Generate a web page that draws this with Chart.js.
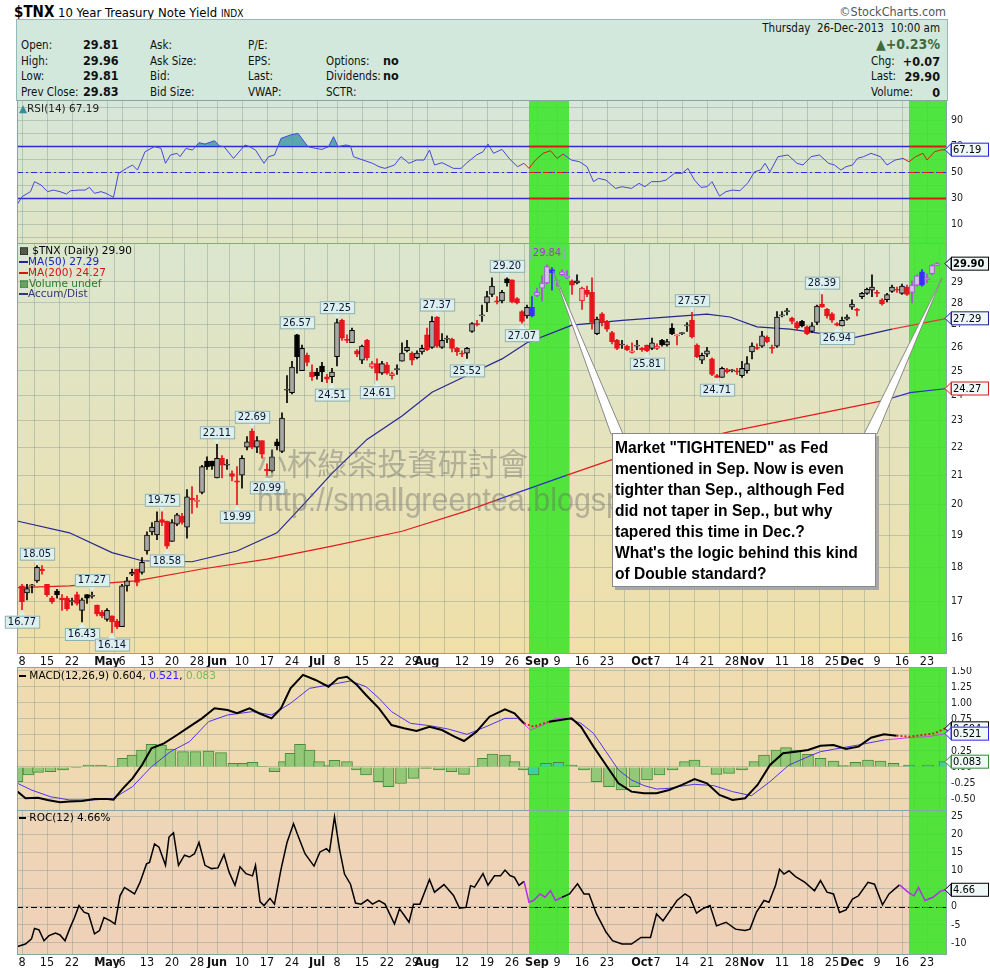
<!DOCTYPE html>
<html><head><meta charset="utf-8">
<script src="https://cdn.jsdelivr.net/npm/chart.js@4.4.1/dist/chart.umd.min.js"></script>
<style>
body{margin:0;background:#fff;width:990px;height:970px;position:relative;overflow:hidden;font-family:'Liberation Sans Narrow','DejaVu Sans Condensed',sans-serif}
canvas{position:absolute;left:0}
.t{position:absolute;white-space:nowrap}
.lg{position:absolute;left:19px;font:10.5px 'DejaVu Sans',sans-serif;line-height:11px;z-index:6;white-space:nowrap}
.hd{position:absolute;font-size:11.5px;color:#111;white-space:nowrap;font-family:'DejaVu Sans Condensed',sans-serif}
.b{font-weight:bold;font-size:12.5px}
</style></head><body>
<div class="t" style="left:14px;top:3px;font-size:13px;color:#000"><b style="font-size:15px">$TNX</b> 10 Year Treasury Note Yield <span style="font-size:10px">INDX</span></div>
<div class="t" style="right:44px;top:4px;font-size:12.5px;color:#555">©StockCharts.com</div>
<div style="position:absolute;left:16px;top:19px;width:930px;height:80px;background:#d3e8dc;border:1px solid #95b8b8"></div>
<div id="hdr"></div>
<canvas id="rsi" width="990" height="143" style="top:100px"></canvas>
<canvas id="price" width="990" height="424" style="top:243px"></canvas>
<canvas id="macd" width="990" height="143" style="top:667px"></canvas>
<canvas id="roc" width="990" height="158" style="top:810px"></canvas>

<div class="lg" style="top:103px;color:#222"><span style="color:#3a8a9a">&#9650;</span>RSI(14) 67.19</div>
<div class="lg" style="top:245px;color:#000">&#9641; $TNX (Daily) 29.90</div>
<div class="lg" style="top:256px;color:#2222bb"><span style="display:inline-block;width:9px;height:2px;background:#22229a;vertical-align:middle"></span>MA(50) 27.29</div>
<div class="lg" style="top:267px;color:#dd1111"><span style="display:inline-block;width:9px;height:2px;background:#dd1111;vertical-align:middle"></span>MA(200) 24.27</div>
<div class="lg" style="top:278px;color:#2a7a2a"><span style="color:#2a7a2a">&#9641;</span>Volume undef</div>
<div class="lg" style="top:288px;color:#33337a"><span style="display:inline-block;width:9px;height:2px;background:#33337a;vertical-align:middle"></span>Accum/Dist</div>
<div class="lg" style="top:670px;color:#000"><span style="display:inline-block;width:7px;height:2px;background:#000;vertical-align:middle"></span> MACD(12,26,9) 0.604, <span style="color:#3322ee">0.521</span>, <span style="color:#77bb55">0.083</span></div>
<div class="lg" style="top:812px;color:#000"><span style="display:inline-block;width:7px;height:2px;background:#000;vertical-align:middle"></span> ROC(12) 4.66%</div>

<svg width="990" height="970" style="position:absolute;left:0;top:0;z-index:5;pointer-events:none">
<text x="257" y="475" font-size="31" textLength="271" lengthAdjust="spacingAndGlyphs" font-family="Noto Sans CJK TC" fill="rgba(105,105,105,0.42)">小杯綠茶投資研討會</text>
<text x="257" y="511" font-size="33" textLength="466" lengthAdjust="spacingAndGlyphs" font-family="Liberation Sans" fill="rgba(105,105,105,0.42)">http://smallgreentea.blogspot.com/</text>
<polygon points="611,434 553,271 623,434" fill="#fff" stroke="#888" stroke-width="1"/>
<polygon points="864,434 942,278 877,434" fill="#fff" stroke="#888" stroke-width="1"/>
</svg>
<div style="position:absolute;left:612px;top:433px;width:264px;height:154px;background:#fff;border:1px solid #888;box-shadow:3px 3px 0 #a8a8a8;z-index:7;font:bold 15.6px 'Liberation Sans',Arial,sans-serif;line-height:21px;padding:3px 0 0 2px;box-sizing:border-box;color:#000;white-space:nowrap">Market "TIGHTENED" as Fed<br>mentioned in Sep. Now is even<br>tighter than Sep., although Fed<br>did not taper in Sep., but why<br>tapered this time in Dec.?<br>What's the logic behind this kind<br>of Double standard?</div>

<script>
// ---------- DATA ----------
const tickDays = [0,5,10,17,20,25,30,35,39,44,49,54,59,63,68,73,78,81,88,93,98,103,107,112,117,124,127,132,137,142,146,152,157,162,166,171,176,181];
const tickText = ['8','15','22','May','6','13','20','28','Jun','10','17','24','Jul','8','15','22','29','Aug','12','19','26','Sep','9','16','23','Oct','7','14','21','28','Nov','11','18','25','Dec','9','16','23'];
const rsiTicks = [0,10,20,30,40,50,60,70,80,90,100];
const priceTicks = [16,17,18,19,20,21,22,23,24,25,26,27,28,29];
const macdTicks = [-0.5,-0.25,0,0.25,0.5,0.75,1,1.25,1.5];
const rocTicks = [-10,-5,0,5,10,15,20,25];

const openP = [17.45,17.25,17.45,17.6,17.95,17.5,17.1,17.3,17.1,17.1,17.0,17.2,16.75,17.2,17.15,16.9,16.7,16.5,16.6,16.45,
16.3,17.45,17.8,17.95,17.85,18.5,19.1,19.0,19.5,19.45,18.8,19.35,19.6,19.25,20.2,20.1,20.4,21.5,21.5,20.9,
21.6,21.35,21.05,20.8,21.0,22.0,22.6,22.0,22.25,21.2,21.15,22.2,21.85,24.2,24.1,26.55,25.0,25.65,24.95,24.95,
25.2,24.75,24.75,25.6,27.2,26.35,26.2,25.85,25.45,26.3,25.15,25.3,24.9,25.25,24.8,25.05,25.4,25.85,25.75,25.55,
25.8,26.55,26.0,27.35,26.0,26.35,26.35,25.95,25.75,25.75,26.7,27.05,27.4,28.0,28.4,28.1,28.1,29.15,29.1,28.2,
27.6,27.4,27.8,28.35,28.7,28.95,29.6,29.0,29.35,29.2,29.05,28.95,28.1,28.6,28.5,26.6,27.5,27.15,26.65,26.3,
26.1,26.05,25.78,26.05,25.95,26.1,25.95,25.95,26.3,26.1,26.85,26.5,26.6,26.95,27.2,26.1,25.45,25.7,25.5,24.8,
24.72,25.05,25.0,24.98,24.8,25.0,25.8,26.0,26.05,26.45,26.0,26.05,27.4,27.6,27.3,27.1,27.15,26.9,26.7,27.1,
27.95,27.7,27.5,27.05,26.95,27.25,27.8,27.7,28.3,28.45,28.6,28.5,28.15,28.15,28.55,28.65,28.45,28.75,28.5,28.85,
29.5,29.1,29.4,29.81];
const highP = [17.5,17.5,17.5,18.05,18.05,17.5,17.15,17.35,17.2,17.15,17.1,17.27,17.1,17.2,17.27,16.9,16.75,16.8,16.6,16.5,
17.5,17.7,17.95,17.95,18.3,19.1,19.4,19.75,19.75,19.45,19.5,19.7,19.7,20.5,20.6,20.3,21.35,21.65,21.5,22.11,
21.7,21.55,21.15,21.3,21.7,22.4,22.69,22.4,22.25,21.4,21.9,22.3,23.3,24.8,25.4,26.57,26.1,25.75,25.25,25.1,
25.35,24.85,25.1,27.25,27.25,26.55,26.85,25.9,26.1,26.35,25.4,25.5,25.4,25.35,24.95,25.25,26.2,26.3,25.8,25.85,
26.1,26.85,27.37,27.37,26.6,26.5,26.4,26.0,25.85,26.0,27.1,27.2,27.9,28.55,29.2,28.3,28.6,29.2,29.1,28.25,
27.65,27.9,28.3,28.7,29.3,29.84,29.7,29.1,29.6,29.55,29.1,29.35,28.75,28.8,29.2,27.35,27.55,27.2,26.7,26.35,
26.3,26.1,26.2,26.3,26.0,26.1,26.4,26.15,26.35,26.35,27.05,26.55,26.65,27.1,27.57,26.15,25.75,26.0,25.55,24.85,
25.15,25.1,25.05,25.1,25.4,25.6,26.2,26.15,26.7,26.5,26.1,27.6,27.6,27.75,27.35,27.15,27.2,26.95,27.1,27.9,
28.39,27.75,27.55,27.1,27.35,27.45,28.15,27.75,28.5,28.7,29.35,28.6,28.2,28.45,28.85,28.75,28.9,28.85,29.05,29.35,
29.6,29.4,29.85,29.96];
const lowP = [16.77,17.05,17.25,17.55,17.8,17.15,16.95,17.1,16.75,16.75,16.9,16.9,16.43,16.95,17.1,16.6,16.55,16.45,16.14,16.25,
16.3,17.3,17.75,17.45,17.8,18.4,19.0,18.85,19.3,18.58,18.8,19.3,19.35,18.9,19.7,19.9,20.35,21.2,21.2,20.9,
20.9,21.2,20.8,19.99,20.55,21.9,21.95,21.8,21.6,20.99,21.1,21.9,21.8,23.7,24.05,24.9,25.0,25.2,24.6,24.65,
24.55,24.51,24.51,25.2,26.3,26.2,26.2,25.6,25.3,25.45,25.1,24.61,24.85,24.85,24.65,24.85,25.4,25.8,25.25,25.5,
25.7,25.85,25.95,26.0,25.95,26.2,25.8,25.65,25.6,25.52,26.65,26.95,27.15,27.6,28.3,27.95,28.0,28.8,28.0,27.95,
27.07,27.3,27.35,28.3,28.1,28.9,28.6,28.8,29.3,29.15,28.4,28.9,27.7,28.3,26.8,26.55,26.95,26.7,26.15,25.9,
25.95,25.85,25.75,25.9,25.82,25.81,25.9,25.9,26.05,26.05,26.55,26.1,26.55,26.7,26.4,25.55,25.3,25.6,24.8,24.71,
24.72,24.9,24.95,24.85,24.72,24.9,25.5,25.9,26.0,26.2,25.75,26.0,27.35,27.45,27.05,26.75,26.9,26.55,26.65,27.0,
27.8,27.3,27.1,26.94,26.94,27.2,27.7,27.4,28.2,28.4,28.3,28.3,27.9,28.05,28.5,28.5,28.4,28.35,28.0,28.8,
28.8,28.95,29.35,29.81];
const closeP = [17.0,17.37,17.48,18.0,17.9,17.2,17.0,17.2,17.05,16.8,17.0,16.95,17.05,17.1,17.15,16.65,16.6,16.75,16.43,16.3,
17.45,17.6,17.85,17.55,18.15,19.0,19.25,19.45,19.4,18.65,19.4,19.65,19.4,20.25,20.15,20.1,21.3,21.3,21.32,21.6,
21.35,21.36,20.95,20.75,21.6,22.2,22.0,22.25,21.75,21.15,21.65,22.05,23.1,24.2,25.15,25.6,25.95,25.35,24.75,24.8,
24.95,24.65,24.95,27.1,26.4,26.3,26.75,25.7,26.05,25.55,25.3,24.9,25.3,24.9,24.88,25.05,25.75,26.0,25.45,25.75,
25.95,25.9,27.15,26.05,26.3,26.35,25.95,25.8,25.7,25.95,27.05,27.0,27.4,28.3,28.8,28.05,28.5,28.95,28.05,28.0,
27.15,27.8,27.4,28.5,28.95,29.75,29.45,29.0,29.5,29.3,28.85,29.05,28.7,28.4,27.1,27.25,27.1,26.8,26.25,25.95,
26.1,25.9,25.85,26.05,25.9,25.85,26.2,26.05,26.1,26.25,26.6,26.5,26.6,26.95,26.45,25.6,25.65,25.85,24.85,24.72,
25.1,24.95,25.0,24.95,25.1,25.3,26.05,25.95,26.5,26.25,25.95,27.35,27.4,27.6,27.15,26.85,26.95,26.6,26.95,27.85,
27.8,27.4,27.2,26.98,27.2,27.35,27.95,27.65,28.45,28.65,28.75,28.45,27.95,28.4,28.75,28.6,28.8,28.4,28.85,29.3,
28.85,29.2,29.8,29.90];

const ma50Days = [-1,9.5,18,24,34,43,51,56,62,69,76,82,89,96,101,110,120,137,141.6,147,153.6,160,166,174,185];
const ma50Vals = [19.45,19.07,18.45,18.2,18.17,18.5,19.07,19.94,21.06,22.29,23.18,24.12,24.8,25.5,26.2,26.98,27.2,27.48,27.35,26.9,26.8,26.6,26.4,26.8,27.29];
const ma200Days = [-1,9.5,22.8,36,49,62,76,89,95,109,118,142,172,177.6,185];
const ma200Vals = [17.4,17.45,17.6,17.95,18.25,18.65,19.12,19.78,20.15,21.0,21.55,22.6,23.77,24.1,24.27];

const rsiDays = [-0.9,0,1.7,2.5,3.8,5.1,6.3,7.6,8.9,9.7,11.4,12.6,13.5,14.5,15.8,16.8,18.3,19.3,20.9,22.1,23.1,24.6,26.5,27.8,28.7,29.7,31,31.6,32.8,34.1,35.4,36.6,38.5,39.5,40.4,42.3,44.6,45.5,46.7,48.4,49.3,50.5,51.8,53.7,55.2,57.2,58.7,60,61.3,62.3,63.2,64.8,65.7,66.3,68.2,70.1,71.4,72.6,74.5,75.8,77.4,78.9,80.4,81.5,82.5,84,86.3,87.8,89,90.9,92.2,93.2,94.3,96,97.6,99.1,100.4,101.4,102.7,104.2,105.7,107,108.2,109.9,111.5,113,114.3,115.3,116.8,118.7,120,121.9,123.4,124.6,125.9,127.5,128.8,130.5,132,133.2,134.5,135.8,137,138,139.5,140.8,142.1,143.6,145.2,146.5,147.7,148.6,149.6,151.2,153.2,155,156.2,157.8,159.5,161.3,162.5,163.8,164.8,166.1,167.1,168.3,169.8,171.7,173,174.6,176.2,177.4,178.7,180.2,181,182.5,183.7,184.7];
const rsiVals = [25.4,31,34.9,42.6,40,34.9,36.1,34.9,33.1,35.6,36.1,36.1,38.2,33.6,34.9,33.6,30.5,49,52.8,55.4,51.5,65.6,69.5,68.2,56.7,63.1,64.4,61.8,68.2,66.9,72.6,71.5,74.1,70,69.5,60.5,70.8,69.5,66.9,56.7,61.8,63.1,75.9,78.5,79.7,69.5,68.2,67.4,69.5,77.2,69.5,70.8,70,61.8,59.2,56.7,54.1,52.8,55.4,61.8,56.7,59.2,59.2,66.9,55.4,57.2,52.8,52.8,57.2,63.1,65.6,71.5,64.4,67.4,59.7,54.1,56.7,52.8,59.2,64.4,66.4,60.5,63.8,59.2,57.9,54.1,42.6,45.1,43.8,37.4,38.7,37.4,41.3,38.7,42.6,42.6,43.8,49,49,52.8,43.8,38.2,38.7,42.6,31.5,34.9,36.1,35.6,41.8,50.2,51.5,56.7,50.2,61.8,63.1,56.7,55.4,61.8,63.1,56.7,55.4,51.5,54.1,55.4,60.5,61.8,64.4,61.8,55.4,59.2,60.5,57.9,61.8,64.4,59.2,65.6,66.9,67.19];

const macdDays = [-0.9,0.7,3.2,5.1,7.6,9.5,12,14.5,17.1,18.3,20.2,22.1,24,25.9,28.4,31,33.5,36,38.5,41.1,43,45.5,47.4,49.9,51.8,53.7,56.2,58.7,61.3,63.2,65,67,68.8,71.4,73.9,76.4,78.9,81.5,84,86.5,88.4,90.9,93.5,96.6,98.5,100.4,102.3,105.4,109.9,111.8,114.3,116.8,119.3,121.9,124.4,126.9,129.4,132,134.5,137,139.5,142.1,144.6,147.1,149.6,152.2,154.7,157.2,159.7,162.3,164.8,167.3,169.8,172.4,174.9,177.4,180,182.5,184.7];
const macdVals = [-0.385,-0.49,-0.48,-0.515,-0.552,-0.54,-0.53,-0.5,-0.5,-0.51,-0.333,-0.177,0.031,0.292,0.37,0.5,0.63,0.76,0.917,0.89,0.84,0.917,0.84,0.76,0.917,1.229,1.44,1.36,1.255,1.385,1.41,1.281,1.125,0.917,0.656,0.604,0.5625,0.63,0.578,0.474,0.406,0.552,0.786,0.901,0.84,0.682,0.63,0.708,0.76,0.63,0.318,0.031,-0.255,-0.385,-0.41,-0.41,-0.36,-0.28,-0.1875,-0.255,-0.4375,-0.515,-0.49,-0.28,0.031,0.214,0.24,0.266,0.333,0.344,0.281,0.318,0.458,0.51,0.49,0.474,0.5,0.526,0.604];
const sigDays = [-0.9,1.9,5.7,9.5,14.5,18.3,22.1,25.9,29.7,33.5,37.3,41.1,46.1,49.9,53.7,57.5,61.3,65.7,68.8,71.4,73.9,77.7,81.5,85.2,89,92.8,96.6,99.1,101.7,104.2,106.7,109.2,111.8,114.3,116.8,119.3,121.9,124.4,126.9,129.4,132,134.5,138.3,142.1,145.9,149.6,153.4,157.2,159.7,162.3,167.3,172.4,177.4,181.2,184.7];
const sigVals = [-0.255,-0.36,-0.464,-0.515,-0.515,-0.49,-0.307,0.005,0.24,0.396,0.708,0.8125,0.865,0.8125,0.995,1.229,1.281,1.344,1.255,1.073,0.865,0.682,0.646,0.594,0.51,0.63,0.76,0.76,0.578,0.656,0.76,0.76,0.682,0.526,0.24,-0.047,-0.203,-0.29,-0.344,-0.333,-0.297,-0.271,-0.29,-0.385,-0.448,-0.229,0.031,0.161,0.24,0.276,0.344,0.422,0.458,0.474,0.521];
const histDays = [-0.9,1.3,3.2,5.7,8.2,10.8,13.3,15.8,18.3,20.2,22.1,24,25.9,27.8,29.7,32.2,34.7,37.3,39.8,42.3,44.2,46.1,48,50.5,52.4,53.7,55.6,57.5,59.4,61.3,62.5,65,67,68.8,71.4,73.3,75.8,78.3,80.8,83.4,85.9,88.4,90.3,92.2,94.1,96.6,98.5,100.4,102.3,104.8,107.3,109.9,112.4,114.9,117.4,119.9,122.5,125,127.5,130.1,132.6,134.5,136.4,138.9,141.4,144,146.5,148.4,150.9,152.8,154.7,157.2,159.7,162.3,164.2,166.7,169.2,171.7,174.3,177.4,181.2,184.5];
const histVals = [-0.229,-0.125,-0.083,-0.073,-0.047,-0.01,0.031,0.031,0.005,0.135,0.188,0.266,0.354,0.344,0.281,0.24,0.24,0.25,0.224,0.057,0.057,0.073,0.005,-0.073,0.083,0.214,0.354,0.266,0.083,0.021,0.104,0.083,-0.047,-0.125,-0.229,-0.307,-0.255,-0.177,-0.021,-0.047,-0.073,-0.115,0.005,0.135,0.203,0.188,0.083,-0.047,-0.125,0.057,0.073,0.031,-0.047,-0.229,-0.307,-0.359,-0.307,-0.203,-0.125,-0.047,0.083,0.109,0.005,-0.115,-0.099,-0.047,0.083,0.188,0.266,0.302,0.266,0.198,0.135,0.094,0.021,0.073,0.109,0.094,0.057,0.031,0.031,0.083];

const rocDays = [-0.9,0.7,1.9,2.5,3.4,4.4,5.4,6.7,7.6,8.6,9.5,10.5,11.4,12.4,13.3,14.5,15.5,16.4,17.7,18.6,19.6,20.5,21.5,22.5,23.6,24.9,25.5,26.5,27.4,28.7,29.4,30.3,31.3,32.5,33.5,34.5,35.4,36.6,37.9,39.2,40.4,41.4,42.6,43.6,44.8,46.1,46.7,47.6,48.4,49.6,50.5,51.8,53,54.3,55.3,56.6,58.4,59.6,60.9,61.5,62.5,63.5,64.5,65.7,66.7,67.8,69.1,70.1,71.4,72.6,74.5,75.5,76.4,77.4,78.3,79.6,81.5,82.5,84.4,86.3,87.5,88.8,89.7,90.5,92.2,93.2,94.5,95.7,96.6,97.6,98.5,99.4,100.4,101.4,102.3,103.6,104.6,105.7,106.7,108,109.5,111.1,112.4,113.4,114.9,116.8,118.1,120,121.9,123.8,125.7,126.9,128.2,129.4,131,132.6,133.6,134.9,136.1,137.6,138.9,140.8,142.7,144.6,145.6,146.9,148.4,149.4,150.7,151.5,152.4,153.4,154.7,156.6,158.5,159.7,161,162.3,163.5,164.8,166.1,167.3,169.2,170.5,172.1,173.4,175.5,177.4,178.4,179.3,180.6,182.2,183.7,184.7];
const rocVals = [-11,-10.3,-8.9,-6,-6.4,-9.4,-8,-7.3,-7.8,-9.4,-6.2,-3,0.3,-1.5,-2,-7.5,-6.6,-3,-3.9,-4.8,3,5.3,4.4,3.5,6.7,11.8,12.2,17.3,16.4,11.4,19.2,20.4,11.4,14.2,13.7,14.6,17.7,11.4,10.5,10.7,14.4,9.6,5.9,11,9.1,8.5,11.4,1.4,0.3,2.3,0.7,10.3,17.7,22.9,19.2,14.6,11.2,15.1,16,15.1,24.8,15.9,9,6.2,1,0.7,1.9,0.7,1.7,0.7,-4.8,-0.6,-2.3,-4.3,0.7,0.7,7.5,4,6.1,3.1,-0.4,-0.2,5.8,5.4,9.1,5.9,8.5,8.5,10.1,8.6,8.1,5.9,7,1.2,1.7,3.5,2.6,4.4,1.7,2.6,3.5,6.3,3.5,3.5,-2,-7,-9.4,-10.3,-10.3,-8.5,-8.5,-2,-3.9,-1.5,1.7,3.5,2.6,-1.8,-0.6,0.3,-5.3,-4.3,-6.2,-6.6,-6.2,-1.5,1.7,1.2,5.8,10.3,9,9.9,8.3,6.7,4.4,7.2,4,3.5,-1.6,-0.9,2.1,3,6.7,6.2,0.5,3.5,6,3.8,3,5.3,1.7,2.6,4.3,4.66];

const labelDays = [0,3,12,14,18,28,29,39,43,46,49,55,62,63,71,83,89,97,100,105,125,134,139,160,163];
const labelSide = ['l','h','l','h','l','h','l','h','l','h','l','h','l','h','l','h','l','h','l','h','l','h','l','h','l'];

// ---------- HELPERS ----------
const BANDS = [[101.4,109.4],[177.4,185]];
const inBand = x => BANDS.some(b => x >= b[0] && x <= b[1]);
const pts = (d, v) => d.map((x, i) => ({x, y: v[i]}));
const NARROW = "'Liberation Sans Narrow','DejaVu Sans Condensed',sans-serif";
const GRID = 'rgba(120,145,140,0.38)';
const TICKFONT = {family: "'DejaVu Sans Condensed','DejaVu Sans',sans-serif", size: 10.5};

function xScale(show) {
  return {
    type: 'linear', min: -1, max: 185, offset: false,
    afterBuildTicks: a => { a.ticks = tickDays.map(v => ({value: v})); },
    grid: {color: GRID, drawTicks: false},
    border: {display: false},
    ticks: {
      display: show, autoSkip: false, maxRotation: 0, padding: 1, color: '#111',
      callback: v => tickText[tickDays.indexOf(v)],
      font: c => ({family: NARROW, size: 12.5, weight: /[A-Za-z]/.test(tickText[tickDays.indexOf(c.tick && c.tick.value)] || '') ? 'bold' : 'normal'})
    },
    afterFit: s => { s.height = show ? 14 : 0; s.paddingLeft = 0; s.paddingRight = 0; s.paddingTop = 0; s.paddingBottom = 0; }
  };
}
function yScale(tickVals, extra, labelFn) {
  return Object.assign({
    position: 'right',
    grid: {color: GRID, drawTicks: false},
    border: {display: false},
    afterBuildTicks: a => { a.ticks = tickVals.map(v => ({value: v})); },
    ticks: {color: '#222', padding: 4, font: TICKFONT, autoSkip: false, callback: labelFn || (v => String(v))},
    afterFit: s => { s.width = 43; s.paddingTop = 0; s.paddingBottom = 0; s.paddingLeft = 0; s.paddingRight = 0; }
  }, extra);
}

const panelPlugin = {
  id: 'panel',
  beforeDraw(chart, args, o) {
    const a = chart.chartArea, ctx = chart.ctx;
    const g = ctx.createLinearGradient(0, a.top, 0, a.bottom);
    g.addColorStop(0, o.top); g.addColorStop(1, o.bottom);
    ctx.save(); ctx.fillStyle = g; ctx.fillRect(a.left, a.top, a.right - a.left, a.bottom - a.top); ctx.restore();
  },
  beforeDatasetsDraw(chart, args, o) {
    const a = chart.chartArea, ctx = chart.ctx, xs = chart.scales.x, ys = chart.scales.y;
    ctx.save();
    ctx.fillStyle = 'rgba(55,228,38,0.85)';
    BANDS.forEach(b => {
      const x0 = xs.getPixelForValue(b[0]), x1 = Math.min(a.right, xs.getPixelForValue(b[1]));
      ctx.fillRect(x0, a.top, x1 - x0, a.bottom - a.top);
    });
    (o.lines || []).forEach(l => {
      const y = Math.round(ys.getPixelForValue(l.v)) + 0.5;
      ctx.lineWidth = l.w || 1; ctx.setLineDash(l.dash || []);
      ctx.strokeStyle = l.c; ctx.beginPath(); ctx.moveTo(a.left, y); ctx.lineTo(a.right, y); ctx.stroke();
      if (l.bandC) {
        ctx.strokeStyle = l.bandC;
        BANDS.forEach(b => { ctx.beginPath(); ctx.moveTo(xs.getPixelForValue(b[0]), y); ctx.lineTo(Math.min(a.right, xs.getPixelForValue(b[1])), y); ctx.stroke(); });
      }
    });
    ctx.restore();
  },
  afterDraw(chart, args, o) {
    const a = chart.chartArea, ctx = chart.ctx, ys = chart.scales.y, xs = chart.scales.x;
    ctx.save();
    ctx.strokeStyle = '#86a6a6'; ctx.lineWidth = 1; ctx.setLineDash([]);
    ctx.strokeRect(a.left + 0.5, a.top + 0.5, a.right - a.left - 1, a.bottom - a.top);
    if (o.callouts) {
      ctx.font = "11px 'DejaVu Sans Condensed','DejaVu Sans',sans-serif";
      ctx.textAlign = 'center'; ctx.textBaseline = 'middle';
      labelDays.forEach((d, k) => {
        const side = labelSide[k];
        const val = side === 'h' ? highP[d] : lowP[d];
        const txt = val.toFixed(2);
        const x = xs.getPixelForValue(d), yv = ys.getPixelForValue(val);
        const w = ctx.measureText(txt).width + 6, h = 12;
        const by = side === 'h' ? yv - 6 - h : yv + 6;
        const band = inBand(d);
        ctx.fillStyle = band ? '#55e040' : '#dcf0ee'; ctx.strokeStyle = '#8fb0b0';
        ctx.beginPath();
        if (side === 'h') { ctx.moveTo(x - 4, by + h); ctx.lineTo(x, yv - 1); ctx.lineTo(x + 4, by + h); }
        else { ctx.moveTo(x - 4, by); ctx.lineTo(x, yv + 1); ctx.lineTo(x + 4, by); }
        ctx.fill();
        ctx.fillRect(x - w / 2, by, w, h); ctx.strokeRect(x - w / 2 + 0.5, by + 0.5, w, h);
        ctx.fillStyle = band ? '#b030e0' : '#113';
        ctx.fillText(txt, x, by + h / 2 + 0.5);
      });
    }
    (o.tags || []).forEach(t => {
      const y = ys.getPixelForValue(t.v), x = a.right + 2;
      ctx.fillStyle = t.bg || '#eef8f6'; ctx.strokeStyle = t.c; ctx.lineWidth = 1;
      ctx.beginPath(); ctx.moveTo(x - 4, y); ctx.lineTo(x + 2, y - 6); ctx.lineTo(x + 2, y + 6); ctx.closePath(); ctx.fill(); ctx.stroke();
      ctx.fillRect(x + 2, y - 7, 37, 14); ctx.strokeRect(x + 2.5, y - 6.5, 37, 13);
      ctx.fillStyle = '#000'; ctx.textAlign = 'left'; ctx.textBaseline = 'middle';
      ctx.font = (t.b ? 'bold ' : '') + "11px 'DejaVu Sans Condensed','DejaVu Sans',sans-serif";
      ctx.fillText(t.t, x + 4, y + 0.5);
    });
    ctx.restore();
  }
};
Chart.register(panelPlugin);

const base = (scales, plug) => ({
  responsive: false, animation: false,
  layout: {autoPadding: false, padding: {left: 17, right: 0, top: 0, bottom: 0}},
  scales,
  plugins: Object.assign({legend: {display: false}, tooltip: {enabled: false}}, plug)
});

// ---------- RSI ----------
new Chart(document.getElementById('rsi'), {
  type: 'line',
  data: {datasets: [{
    data: pts(rsiDays, rsiVals), borderColor: '#4646dc', borderWidth: 1, pointRadius: 0, tension: 0,
    fill: {target: {value: 70}, above: 'rgba(60,150,165,0.8)', below: 'rgba(0,0,0,0)'},
    segment: {borderColor: c => inBand(c.p1.parsed.x) ? '#e01818' : '#4646dc'}
  }]},
  options: base({
    x: xScale(false),
    y: yScale(rsiTicks, {min: -4.6, max: 105.4}, v => [10,30,50,70,90].includes(v) ? String(v) : '')
  }, {panel: {top: '#d6e6d8', bottom: '#dfe4c4', lines: [
    {v: 70, c: '#2b2bd8', w: 1.3, bandC: '#e01818'},
    {v: 30, c: '#2b2bd8', w: 1.3, bandC: '#e01818'},
    {v: 50, c: '#2b2bd8', w: 1.2, dash: [6, 3, 2, 3], bandC: '#e01818'}],
    tags: [{v: 67.19, t: '67.19', c: '#2222dd'}]}})
});

// ---------- PRICE ----------
const days = closeP.map((_, i) => i);
const colorOf = i => {
  const prev = i > 0 ? closeP[i - 1] : openP[i];
  const filled = closeP[i] < openP[i];
  if (inBand(i)) return filled ? '#3a2cff' : '#b448f4';
  return (closeP[i] < prev || i === 0) ? '#e8141c' : '#000000';
};
const cols = days.map(colorOf);
const fills = days.map(i => closeP[i] < openP[i] ? cols[i] : 'rgba(255,255,255,0.6)');

new Chart(document.getElementById('price'), {
  type: 'bar',
  data: {datasets: [
    {type: 'line', data: pts(ma50Days, ma50Vals), borderColor: '#262690', borderWidth: 1.2, pointRadius: 0, order: 4,
      segment: {borderColor: c => inBand(c.p1.parsed.x) ? '#e23a3a' : '#262690'}},
    {type: 'line', data: pts(ma200Days, ma200Vals), borderColor: '#e01c1c', borderWidth: 1.2, pointRadius: 0, order: 4,
      segment: {borderColor: c => inBand(c.p1.parsed.x) ? '#3030c0' : '#e01c1c'}},
    {data: days.map(i => ({x: i, y: [lowP[i], highP[i]]})), backgroundColor: cols, barThickness: 1, grouped: false, order: 3, minBarLength: 1},
    {data: days.map(i => ({x: i, y: [Math.min(openP[i], closeP[i]), Math.max(openP[i], closeP[i])]})),
      backgroundColor: fills, borderColor: cols, borderWidth: 1, borderSkipped: false, barThickness: 5, grouped: false, order: 2, minBarLength: 1}
  ]},
  options: base({
    x: xScale(true),
    y: yScale(priceTicks, {type: 'logarithmic', min: 15.6, max: 30.95})
  }, {panel: {top: '#dbe6cf', bottom: '#f0dfa8', callouts: true,
    tags: [{v: 29.9, t: '29.90', c: '#000', b: true}, {v: 27.29, t: '27.29', c: '#22229a'}, {v: 24.27, t: '24.27', c: '#e01c1c'}]}})
});

// ---------- MACD ----------
new Chart(document.getElementById('macd'), {
  type: 'bar',
  data: {datasets: [
    {type: 'line', data: pts(macdDays, macdVals), borderColor: '#000', borderWidth: 2, pointRadius: 0, order: 1,
      segment: {borderColor: c => inBand(c.p1.parsed.x) ? '#d02020' : '#000', borderDash: c => inBand(c.p1.parsed.x) ? [2, 2] : undefined}},
    {type: 'line', data: pts(sigDays, sigVals), borderColor: '#5234e8', borderWidth: 1, pointRadius: 0, order: 2,
      segment: {borderColor: c => inBand(c.p1.parsed.x) ? '#d040f0' : '#5234e8'}},
    {data: pts(histDays, histVals), backgroundColor: histDays.map(d => inBand(d) ? '#40d0a0' : '#92c878'), borderColor: '#4b8a3a', borderWidth: 1, barThickness: 11, grouped: false, order: 3}
  ]},
  options: base({
    x: xScale(false),
    y: yScale(macdTicks, {min: -0.672, max: 1.5625}, v => v.toFixed(2))
  }, {panel: {top: '#efdcb0', bottom: '#eed8b2',
    tags: [{v: 0.604, t: '0.604', c: '#000'}, {v: 0.521, t: '0.521', c: '#3322ee'}, {v: 0.083, t: '0.083', c: '#3a8a3a'}]}})
});

// ---------- ROC ----------
new Chart(document.getElementById('roc'), {
  type: 'line',
  data: {datasets: [{data: pts(rocDays, rocVals), borderColor: '#000', borderWidth: 1.5, pointRadius: 0,
    segment: {borderColor: c => inBand(c.p1.parsed.x) ? '#b030e8' : '#000'}}]},
  options: base({
    x: xScale(true),
    y: yScale(rocTicks, {min: -13.06, max: 26.67})
  }, {panel: {top: '#efd6b8', bottom: '#efd0b8', lines: [{v: 0, c: '#000', w: 1.2, dash: [6, 3, 2, 3], bandC: '#b030e8'}],
    tags: [{v: 4.66, t: '4.66', c: '#000'}]}})
});

// ---------- HEADER ----------
const hdr = [
  ['Open:', 21, 39], ['29.81', 83, 38, 1], ['High:', 21, 55], ['29.96', 83, 54, 1], ['Low:', 21, 70], ['29.81', 83, 69, 1], ['Prev Close:', 21, 86], ['29.83', 83, 85, 1],
  ['Ask:', 150, 39], ['Ask Size:', 150, 55], ['Bid:', 150, 70], ['Bid Size:', 150, 86],
  ['P/E:', 248, 39], ['EPS:', 248, 55], ['Last:', 248, 70], ['VWAP:', 248, 86],
  ['Options:', 326, 55], ['no', 383, 54, 1], ['Dividends:', 326, 70], ['no', 383, 69, 1], ['SCTR:', 326, 86],
  ['Chg:', 871, 55], ['Last:', 871, 70], ['Volume:', 871, 86]
];
let h = '';
hdr.forEach(r => { h += `<div class="hd${r[3] ? ' b' : ''}" style="left:${r[1]}px;top:${r[2] - 1}px">${r[0]}</div>`; });
const rt = [['Thursday&nbsp; 26-Dec-2013&nbsp; 10:00 am', 21, ''], ['<span style="color:#3d6b3d">&#9650;+0.23%</span>', 36, 'font-weight:bold;font-size:14px'],
  ['+0.07', 54, 'font-weight:bold;font-size:12.5px'], ['29.90', 69, 'font-weight:bold;font-size:12.5px'], ['0', 85, 'font-weight:bold;font-size:12.5px']];
rt.forEach(r => { h += `<div class="hd" style="right:50px;top:${r[1]}px;${r[2]}">${r[0]}</div>`; });
document.getElementById('hdr').innerHTML = h;
</script>
</body></html>
